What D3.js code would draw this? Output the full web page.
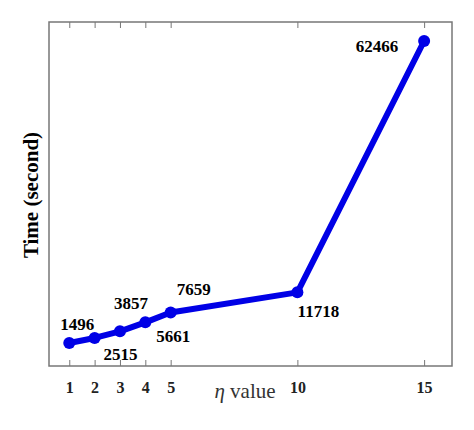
<!DOCTYPE html>
<html><head><meta charset="utf-8">
<script src="https://cdn.jsdelivr.net/npm/d3@7"></script>
<style>body{margin:0;background:#fff}text{font-family:"Liberation Serif","Times New Roman",serif}</style>
</head><body><svg id="chart" width="474" height="430"></svg>
<script>
const etas = [1, 2, 3, 4, 5, 10, 15];
const times = [1496, 2515, 3857, 5661, 7659, 11718, 62466];
const labelOffsets = [[8, -13], [26, 22], [11, -22], [28, 20], [23, -17], [21, 25], [-47, 11]];

const margin = { top: 22, right: 22, bottom: 64, left: 49 };
const width = 474, height = 430;
const svg = d3.select("#chart");
const x = d3.scaleLinear().domain([0.2, 16.1]).range([margin.left, width - margin.right]);
const y = d3.scaleLinear().domain([-3148, 66302]).range([height - margin.bottom, margin.top]);

svg.append("g").attr("transform", `translate(0,${height - margin.bottom})`)
  .call(d3.axisBottom(x).tickValues(etas).tickSize(-6).tickSizeOuter(0).tickPadding(16))
  .call(g => g.selectAll("text").attr("font-size", 16).attr("font-weight", "bold").attr("fill", "#222"));
svg.append("g").attr("transform", `translate(0,${margin.top})`)
  .call(d3.axisTop(x).tickValues(etas).tickSize(-6).tickSizeOuter(0).tickFormat(""));
svg.selectAll(".domain").remove();
svg.selectAll(".tick line").attr("stroke", "#777");
svg.append("rect").attr("x", margin.left).attr("y", margin.top)
  .attr("width", width - margin.left - margin.right).attr("height", height - margin.top - margin.bottom)
  .attr("fill", "none").attr("stroke", "#777").attr("stroke-width", 1.5);

const line = d3.line().x((d, i) => x(etas[i])).y(d => y(d));
svg.append("path").datum(times).attr("d", line).attr("fill", "none")
  .attr("stroke", "#0000e6").attr("stroke-width", 6).attr("stroke-linejoin", "round");
svg.selectAll(".pt").data(times).join("circle").attr("class", "pt")
  .attr("cx", (d, i) => x(etas[i])).attr("cy", d => y(d)).attr("r", 6).attr("fill", "#0000e6");
svg.selectAll(".lbl").data(times).join("text").attr("class", "lbl")
  .attr("x", (d, i) => x(etas[i]) + labelOffsets[i][0]).attr("y", (d, i) => y(d) + labelOffsets[i][1])
  .attr("text-anchor", "middle").attr("font-size", 17).attr("font-weight", "bold").text(d => d);

const xl = svg.append("text").attr("x", 245).attr("y", 398).attr("text-anchor", "middle")
  .attr("font-size", 21).attr("fill", "#333");
xl.append("tspan").attr("font-style", "italic").text("η");
xl.append("tspan").text(" value");
svg.append("text").attr("transform", "translate(38,195) rotate(-90)").attr("text-anchor", "middle")
  .attr("font-size", 21).attr("font-weight", "bold").text("Time (second)");
</script></body></html>
